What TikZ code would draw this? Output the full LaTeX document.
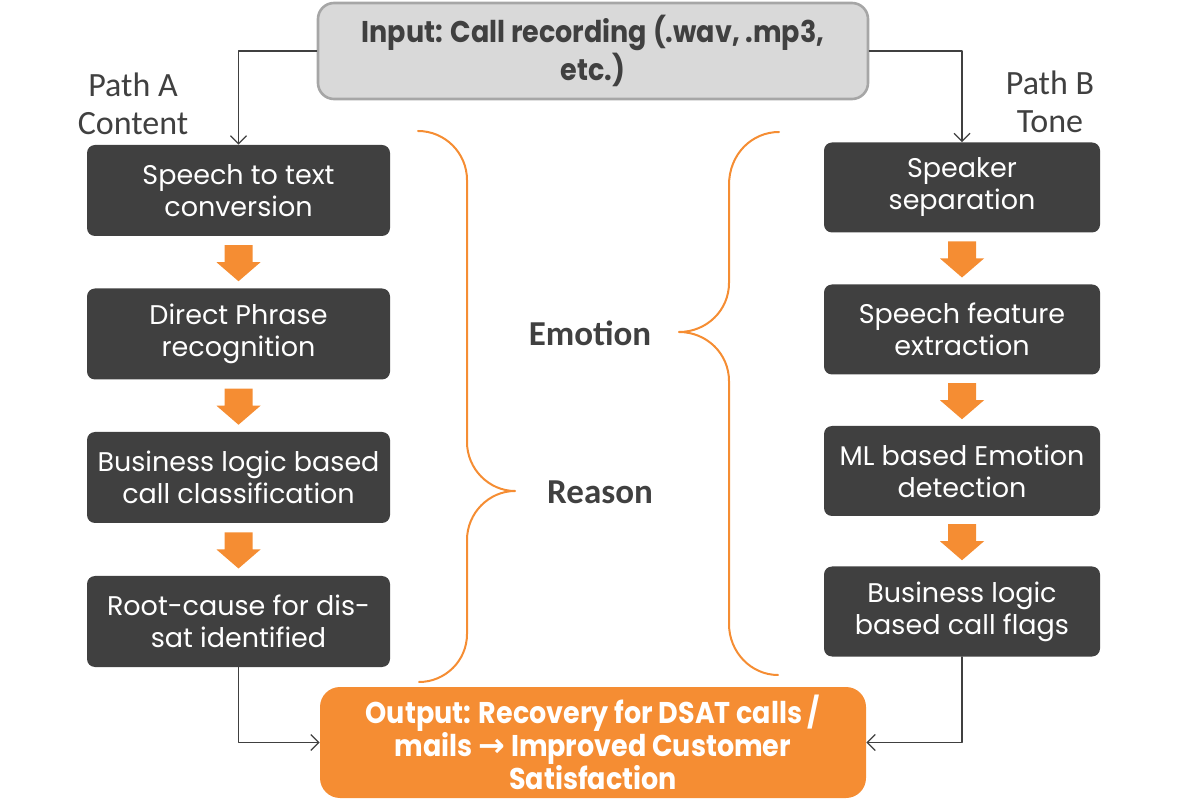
\documentclass[tikz,border=0pt]{standalone}
\usepackage{fontspec}
\usetikzlibrary{calc,arrows.meta}
\newfontfamily\gothic{Poppins}
\newfontfamily\gothiccond[FakeStretch=0.9]{Poppins}
\newfontfamily\calib{Carlito}
\newfontfamily\arrowfont{DejaVu Sans}
\definecolor{darkbox}{HTML}{404040}
\definecolor{inkgray}{HTML}{404040}
\definecolor{lightbox}{HTML}{D9D9D9}
\definecolor{lightedge}{HTML}{A6A6A6}
\definecolor{orangeC}{HTML}{F58D33}
\tikzset{
  stage/.style={fill=darkbox, rounded corners=4pt, text=white, align=center,
    font=\gothic\fontsize{13.5}{16}\selectfont, inner sep=0pt},
  stageA/.style={stage, minimum width=151.5pt, minimum height=45.5pt},
  stageB/.style={stage, minimum width=138pt, minimum height=45pt},
  pathlabel/.style={text=inkgray, align=center, font=\calib\fontsize{17}{19}\selectfont},
  bracelabel/.style={text=inkgray, font=\calib\bfseries\fontsize{17.5}{20}\selectfont},
  conn/.style={draw=inkgray, line width=0.6pt, -{Straight Barb[length=4pt,width=8pt]}},
  brace/.style={draw=orangeC, line width=1pt}
}
\begin{document}
\begin{tikzpicture}[x=0.5pt, y=-0.5pt, line join=round, line cap=round]
\useasboundingbox (0,0) rectangle (1200,812);
% input and output
\node[fill=lightbox, draw=lightedge, line width=1.3pt, rounded corners=8pt,
  minimum width=275pt, minimum height=48pt, align=center, text=inkgray,
  font=\gothiccond\bfseries\fontsize{15}{17.5}\selectfont] (input) at (593,51)
  {Input: Call recording (.wav, .mp3,\\etc.)};
\node[fill=orangeC, rounded corners=10pt, minimum width=273pt, minimum height=55.5pt,
  align=center, text=white, font=\gothiccond\bfseries\fontsize{15}{16.5}\selectfont]
  (output) at (593,742.5)
  {Output: Recovery for DSAT calls /\\mails {\arrowfont\bfseries\fontsize{16}{16.5}\selectfont →} Improved Customer\\Satisfaction};
% path A
\node[pathlabel] (labA) at (133,104) {Path A\\Content};
\node[stageA] (a1) at (238.5,190.5) {Speech to text\\conversion};
\node[stageA] (a2) at (238.5,334) {Direct Phrase\\recognition};
\node[stageA] (a3) at (238.5,477.5) {Business logic based\\call classification};
\node[stageA] (a4) at (238.5,621.5) {Root-cause for dis-\\sat identified};
% path B
\node[pathlabel] (labB) at (1050,102) {Path B\\Tone};
\node[stageB] (b1) at (962,187.5) {Speaker\\separation};
\node[stageB] (b2) at (962,329.5) {Speech feature\\extraction};
\node[stageB] (b3) at (962,471) {ML based Emotion\\detection};
\node[stageB] (b4) at (962,611.5) {Business logic\\based call flags};
% block arrows
\foreach \u/\v in {a1/a2,a2/a3,a3/a4,b1/b2,b2/b3,b3/b4}
  \fill[orangeC] ($(\u.south)!0.5!(\v.north)$) ++(-14,-17) -- ++(28,0) -- ++(0,17)
    -- ++(8,0) -- ++(-22,19) -- ++(-22,-19) -- ++(8,0) -- cycle;
% connectors
\draw[conn] (input.west) -| (a1.north);
\draw[conn] (input.east) -| (b1.north);
\draw[conn] (a4.south) |- (output.west);
\draw[conn] (b4.south) |- (output.east);
% braces
\draw[brace] (418,131) .. controls (445,131) and (467,153) .. (467,180) -- (467,442)
  .. controls (467,469) and (489,491) .. (515,491)
  .. controls (489,491) and (467,513) .. (467,540) -- (467,634)
  .. controls (467,661) and (445,682) .. (419,682);
\draw[brace] (779,132) .. controls (752,132) and (729,154) .. (729,185) -- (729,283)
  .. controls (729,310) and (707,332) .. (679,332)
  .. controls (707,332) and (729,354) .. (729,381) -- (729,624)
  .. controls (729,652) and (751,675) .. (778,675);
\node[bracelabel] (emotion) at (590,333) {Emotion};
\node[bracelabel] (reason) at (600,492) {Reason};
\end{tikzpicture}
\end{document}
